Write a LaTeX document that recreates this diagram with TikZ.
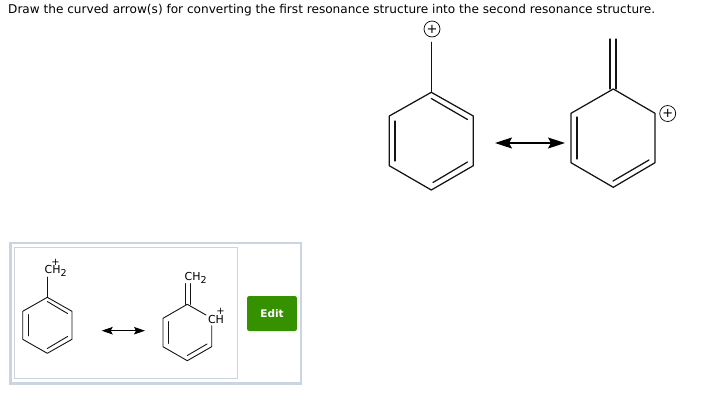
\documentclass[tikz,border=0pt]{standalone}
\usepackage{fontspec}
\setmainfont{DejaVu Sans}
\newfontfamily\labelfont{DejaVu Sans}
\usetikzlibrary{arrows.meta}
\definecolor{framecol}{HTML}{CBD5E1}
\definecolor{editgreen}{HTML}{359100}
\tikzset{
  bigbond/.style={line width=1.25pt,black!92,line cap=round,line join=round},
  smallbond/.style={line width=0.9pt,black!92,line cap=round,line join=round},
  bigcharge/.style={circle,draw,line width=0.7pt,minimum size=16pt,inner sep=0pt,font=\fontsize{13}{13}\selectfont},
  chem/.style={inner sep=0pt,font=\labelfont\fontsize{11}{11}\selectfont},
  chemplus/.style={inner sep=0pt,font=\labelfont\fontsize{10}{10}\selectfont},
  bigres/.style={line width=1.1pt,{Stealth[length=17pt,width=11pt,inset=3pt]}-{Stealth[length=17pt,width=11pt,inset=3pt]}},
  smallres/.style={line width=0.9pt,{Stealth[length=11pt,width=7.5pt,inset=2pt]}-{Stealth[length=11pt,width=7.5pt,inset=2pt]}}
}
\begin{document}
\begin{tikzpicture}[x=1pt,y=-1pt]
\useasboundingbox (0,0) rectangle (710,408);
\node[anchor=west,inner sep=0pt,font=\fontsize{12.1}{14}\selectfont] (title) at (8,10.5) {Draw the curved arrow(s) for converting the first resonance structure into the second resonance structure.};
% top left ring
\coordinate (a1) at (431.3,92.3); \coordinate (a2) at (473.3,116); \coordinate (a3) at (473.3,165.7);
\coordinate (a4) at (431.3,190); \coordinate (a5) at (389.3,165.7); \coordinate (a6) at (389.3,116);
\node[bigcharge] (p1) at (432,29) {+};
\coordinate (a0) at (431.3,42.3);
\draw[bigbond] (a1)--(a2)--(a3)--(a4)--(a5)--(a6)--cycle;
\draw[bigbond] (a0)--(a1);
\draw[bigbond] (431.3,98.5)--(467.5,119.5);
\draw[bigbond] (467.5,162)--(433,182.5);
\draw[bigbond] (395,121)--(395,161);
% top right ring
\coordinate (b1) at (613.3,89); \coordinate (b2) at (655,113.3); \coordinate (b3) at (655,162.7);
\coordinate (b4) at (613.3,187.3); \coordinate (b5) at (571,162.7); \coordinate (b6) at (571,113.3);
\node[bigcharge] (p2) at (667.7,113.5) {+};
\draw[bigbond] (b1)--(b2)--(b3)--(b4)--(b5)--(b6)--cycle;
\draw[bigbond] (610,39)--(610,89);
\draw[bigbond] (616,39)--(616,89);
\draw[bigbond] (577,117)--(577,159);
\draw[bigbond] (649,160)--(613,181);
\coordinate (r1) at (495,143); \coordinate (r2) at (565,143);
\draw[bigres] (r1)--(r2);
% frame
\draw[framecol,line width=2.6pt] (10.5,243) rectangle (301,383.5);
\draw[framecol,line width=0.9pt] (14.3,247.7) rectangle (237.7,378.3);
\node[fill=editgreen,rounded corners=2pt,minimum width=49.7pt,minimum height=35pt,inner sep=0pt,text=white,font=\fontsize{10.5}{11}\bfseries\selectfont] (edit) at (272,313.5) {Edit};
% bottom left
\coordinate (c1) at (47.3,297.3); \coordinate (c2) at (72,311.3); \coordinate (c3) at (72,339.3);
\coordinate (c4) at (47.3,353.3); \coordinate (c5) at (22.7,339.3); \coordinate (c6) at (22.7,311.3);
\node[chem,anchor=west] (ch2a) at (44.5,270.5) {CH\raisebox{-3pt}{\fontsize{9.5}{10}\selectfont 2}};
\node[chemplus] (pa) at (55.5,262) {+};
\draw[smallbond] (c1)--(c2)--(c3)--(c4)--(c5)--(c6)--cycle;
\draw[smallbond] (47.3,277)--(c1);
\draw[smallbond] (47.3,301.5)--(67.5,313.5);
\draw[smallbond] (67.5,336.5)--(47.3,348.5);
\draw[smallbond] (28,314.5)--(28,336);
% bottom right
\coordinate (d1) at (187.3,304.3); \coordinate (d2) at (206,315); \coordinate (d3) at (211.7,325.7);
\coordinate (d4) at (211.7,346.7); \coordinate (d5) at (187.3,360.7); \coordinate (d6) at (163,346.7); \coordinate (d7) at (163,318.3);
\node[chem,anchor=west] (ch2b) at (184.5,277.5) {CH\raisebox{-3pt}{\fontsize{9.5}{10}\selectfont 2}};
\node[chem] (chb) at (216,319) {CH};
\node[chemplus] (pb) at (220.5,311) {+};
\draw[smallbond] (d2)--(d1)--(d7)--(d6)--(d5)--(d4)--(d3);
\draw[smallbond] (185,283.5)--(185,304.3);
\draw[smallbond] (190.5,283.5)--(190.5,304.3);
\draw[smallbond] (168.5,321.5)--(168.5,343.5);
\draw[smallbond] (207,344)--(187.3,355.5);
\coordinate (s1) at (101.7,330.7); \coordinate (s2) at (145,330.7);
\draw[smallres] (s1)--(s2);
\end{tikzpicture}
\end{document}
